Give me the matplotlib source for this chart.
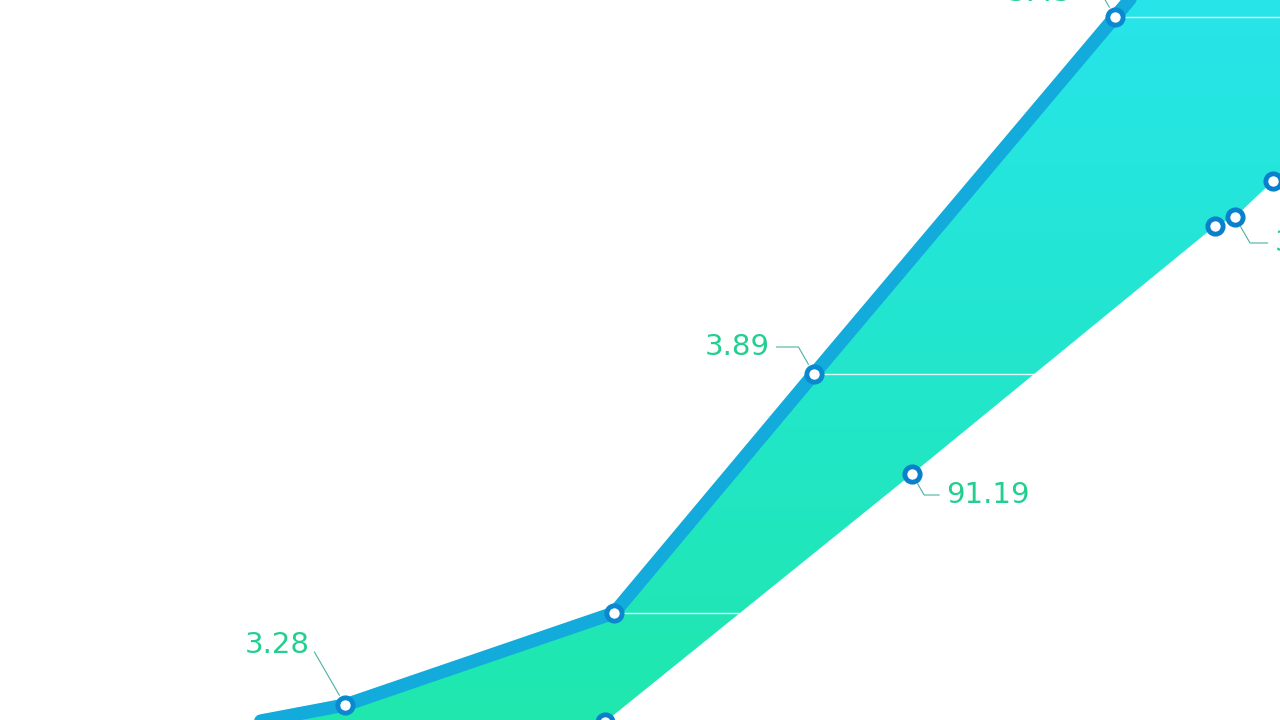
import matplotlib.pyplot as plt
import numpy as np
from matplotlib.colors import LinearSegmentedColormap
from matplotlib.patches import Polygon

# upper series (thick line), values in plot units
upper_x = np.array([1.5, 3.45, 6.14, 8.14, 11.15, 12.6])
upper_y = np.array([-0.22, 0.15, 1.07, 3.46, 7.03, 8.75])
upper_labels = ["", "3.28", "", "3.89", "3.45", ""]

# lower series (edge of the band)
lower_x = np.array([4.0, 6.05, 9.12, 12.15, 12.35, 12.73, 14.0])
lower_y = np.array([-1.6, -0.02, 2.46, 4.94, 5.03, 5.39, 6.3])
lower_labels = ["", "", "91.19", "", "3.02", "", ""]

fig = plt.figure(figsize=(12.8, 7.2), dpi=100)
ax = fig.add_axes([0, 0, 1, 1])
ax.axis("off")

# gradient band between the two series
cmap = LinearSegmentedColormap.from_list("band", ["#1ee89c", "#22e6cc", "#2ae4f8"])
grad = np.linspace(0, 1, 256).reshape(-1, 1)
img = ax.imshow(grad, cmap=cmap, origin="lower", aspect="auto",
                extent=[0, 14, -2, 9], zorder=1)
poly = np.column_stack([np.concatenate([upper_x, lower_x[::-1]]),
                        np.concatenate([upper_y, lower_y[::-1]])])
patch = Polygon(poly, closed=True, facecolor="none", edgecolor="none")
ax.add_patch(patch)
img.set_clip_path(patch)
ax.set_xlim(0, 12.8)
ax.set_ylim(0, 7.2)

# thin white guides from upper points across the band
for xi, yi in zip(upper_x[2:5], upper_y[2:5]):
    xe = np.interp(yi, lower_y, lower_x)
    ax.plot([xi, xe], [yi, yi], color="white", lw=1, alpha=0.85, zorder=2)

ax.plot(upper_x, upper_y, color="#12abdc", lw=9.5, solid_capstyle="round", zorder=3)
ax.plot(upper_x, upper_y, ls="none", marker="o", ms=11, mfc="white",
        mec="#0a88d0", mew=3.5, zorder=4)
ax.plot(lower_x, lower_y, ls="none", marker="o", ms=11, mfc="white",
        mec="#0a80cc", mew=3.5, zorder=4)

label_kw = dict(textcoords="offset pixels", fontsize=21, color="#22cf8e",
                ha="center", va="center", zorder=5,
                arrowprops=dict(arrowstyle="-", color="#4ab3a0", lw=0.8,
                                shrinkA=3, shrinkB=8,
                                connectionstyle="angle,angleA=0,angleB=120,rad=0"))
offsets_up = {1: (-68, 60), 3: (-77, 27), 4: (-75, 24)}
for i, lab in enumerate(upper_labels):
    if lab:
        ax.annotate(lab, (upper_x[i], upper_y[i]), xytext=offsets_up[i], **label_kw)
offsets_lo = {2: (76, -21), 4: (72, -26)}
for i, lab in enumerate(lower_labels):
    if lab:
        ax.annotate(lab, (lower_x[i], lower_y[i]), xytext=offsets_lo[i], **label_kw)

fig.savefig("out.png", dpi=100)
